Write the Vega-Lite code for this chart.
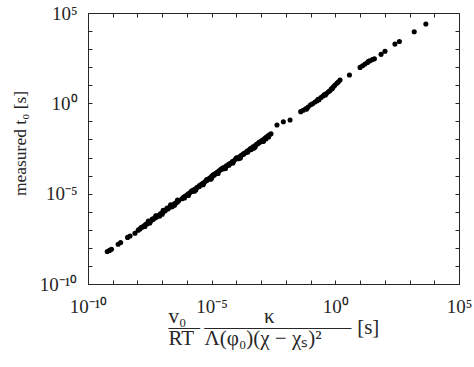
{
  "$schema": "https://vega.github.io/schema/vega-lite/v6.json",
  "autosize": "none",
  "width": 371,
  "height": 271,
  "padding": {"left": 88, "top": 13, "right": 15, "bottom": 83},
  "background": "white",
  "config": {
    "view": {"stroke": "#262626", "strokeWidth": 1},
    "axis": {
      "labelFont": "Liberation Serif",
      "titleFont": "Liberation Serif",
      "labelColor": "#262626",
      "titleColor": "#262626",
      "titleFontWeight": "normal",
      "domain": false,
      "grid": false,
      "tickColor": "#262626",
      "tickSize": -4,
      "tickWidth": 1
    }
  },
  "data": {
    "values": [
      {"x": 6.03e-10, "y": 6.31e-9}, {"x": 7.41e-10, "y": 7.24e-9}, {"x": 8.91e-10, "y": 8.32e-9},
      {"x": 1.66e-9, "y": 1.585e-8}, {"x": 2.09e-9, "y": 2.0e-8}, {"x": 3.98e-9, "y": 3.8e-8},
      {"x": 5.01e-9, "y": 4.57e-8}, {"x": 7.94e-9, "y": 6.46e-8}, {"x": 1.07e-8, "y": 9.55e-8},
      {"x": 1.26e-8, "y": 1.12e-7}, {"x": 1.45e-8, "y": 1.38e-7}, {"x": 1.66e-8, "y": 1.45e-7},
      {"x": 1.91e-8, "y": 1.74e-7}, {"x": 2.19e-8, "y": 2.0e-7}, {"x": 2.51e-8, "y": 2.19e-7},
      {"x": 2.88e-8, "y": 2.63e-7}, {"x": 3.31e-8, "y": 2.88e-7}, {"x": 3.8e-8, "y": 3.47e-7},
      {"x": 4.37e-8, "y": 3.8e-7}, {"x": 5.01e-8, "y": 4.57e-7}, {"x": 5.75e-8, "y": 5.01e-7},
      {"x": 6.61e-8, "y": 6.03e-7}, {"x": 7.59e-8, "y": 6.61e-7}, {"x": 8.71e-8, "y": 7.94e-7},
      {"x": 1.0e-7, "y": 8.71e-7}, {"x": 1.15e-7, "y": 1.05e-6}, {"x": 1.32e-7, "y": 1.12e-6},
      {"x": 1.51e-7, "y": 1.38e-6}, {"x": 1.74e-7, "y": 1.48e-6}, {"x": 2.0e-7, "y": 1.78e-6},
      {"x": 2.29e-7, "y": 2.0e-6}, {"x": 2.63e-7, "y": 2.29e-6}, {"x": 3.02e-7, "y": 2.63e-6},
      {"x": 3.47e-7, "y": 3.02e-6}, {"x": 3.98e-7, "y": 3.31e-6}, {"x": 4.57e-7, "y": 3.98e-6},
      {"x": 6.31e-7, "y": 5.25e-6}, {"x": 7.24e-7, "y": 6.31e-6}, {"x": 8.32e-7, "y": 7.24e-6},
      {"x": 9.55e-7, "y": 7.94e-6}, {"x": 1.1e-6, "y": 9.55e-6}, {"x": 1.26e-6, "y": 1.05e-5},
      {"x": 1.45e-6, "y": 1.26e-5}, {"x": 1.66e-6, "y": 1.38e-5}, {"x": 1.91e-6, "y": 1.66e-5},
      {"x": 2.19e-6, "y": 1.82e-5}, {"x": 2.51e-6, "y": 2.19e-5}, {"x": 2.88e-6, "y": 2.4e-5},
      {"x": 3.31e-6, "y": 2.88e-5}, {"x": 3.8e-6, "y": 3.16e-5}, {"x": 4.37e-6, "y": 3.8e-5},
      {"x": 5.01e-6, "y": 4.17e-5}, {"x": 5.75e-6, "y": 5.01e-5}, {"x": 6.61e-6, "y": 5.5e-5},
      {"x": 7.59e-6, "y": 6.61e-5}, {"x": 8.71e-6, "y": 7.59e-5}, {"x": 1.0e-5, "y": 9.12e-5},
      {"x": 1.15e-5, "y": 1.1e-4}, {"x": 1.32e-5, "y": 1.2e-4}, {"x": 1.51e-5, "y": 1.38e-4},
      {"x": 1.74e-5, "y": 1.585e-4}, {"x": 2.0e-5, "y": 1.82e-4}, {"x": 2.29e-5, "y": 2.09e-4},
      {"x": 2.63e-5, "y": 2.29e-4}, {"x": 3.02e-5, "y": 2.75e-4}, {"x": 3.47e-5, "y": 3.02e-4},
      {"x": 3.98e-5, "y": 3.47e-4}, {"x": 4.57e-5, "y": 3.98e-4}, {"x": 5.25e-5, "y": 4.57e-4},
      {"x": 6.03e-5, "y": 5.01e-4}, {"x": 6.92e-5, "y": 6.03e-4}, {"x": 7.94e-5, "y": 6.61e-4},
      {"x": 9.12e-5, "y": 7.94e-4}, {"x": 1.05e-4, "y": 8.71e-4}, {"x": 1.2e-4, "y": 1.0e-3},
      {"x": 1.38e-4, "y": 1.15e-3}, {"x": 1.585e-4, "y": 1.32e-3}, {"x": 1.82e-4, "y": 1.45e-3},
      {"x": 2.09e-4, "y": 1.74e-3}, {"x": 2.4e-4, "y": 1.91e-3}, {"x": 2.75e-4, "y": 2.29e-3},
      {"x": 3.16e-4, "y": 2.51e-3}, {"x": 3.63e-4, "y": 3.02e-3}, {"x": 4.17e-4, "y": 3.31e-3},
      {"x": 4.79e-4, "y": 3.98e-3}, {"x": 5.5e-4, "y": 4.37e-3}, {"x": 6.31e-4, "y": 5.25e-3},
      {"x": 7.24e-4, "y": 5.75e-3}, {"x": 8.32e-4, "y": 6.92e-3}, {"x": 9.55e-4, "y": 7.59e-3},
      {"x": 1.1e-3, "y": 9.12e-3}, {"x": 1.26e-3, "y": 1.0e-2}, {"x": 1.45e-3, "y": 1.2e-2},
      {"x": 1.66e-3, "y": 1.38e-2}, {"x": 1.91e-3, "y": 1.585e-2}, {"x": 2.19e-3, "y": 1.82e-2},
      {"x": 2.51e-3, "y": 2.09e-2},
      {"x": 2.0e-8, "y": 1.51e-7}, {"x": 3.98e-8, "y": 3.98e-7}, {"x": 7.94e-8, "y": 5.75e-7},
      {"x": 1.585e-7, "y": 1.585e-6}, {"x": 3.16e-7, "y": 2.29e-6}, {"x": 7.94e-7, "y": 5.75e-6},
      {"x": 1.585e-6, "y": 1.45e-5}, {"x": 3.16e-6, "y": 2.51e-5}, {"x": 6.31e-6, "y": 6.03e-5},
      {"x": 1.26e-5, "y": 1.05e-4}, {"x": 2.51e-5, "y": 2.4e-4}, {"x": 5.01e-5, "y": 3.8e-4},
      {"x": 1.0e-4, "y": 9.55e-4}, {"x": 2.0e-4, "y": 1.585e-3}, {"x": 3.98e-4, "y": 2.75e-3},
      {"x": 7.94e-4, "y": 6.31e-3}, {"x": 1.585e-3, "y": 1.1e-2},
      {"x": 2.75e-8, "y": 3.02e-7}, {"x": 5.5e-8, "y": 6.03e-7}, {"x": 1.1e-7, "y": 1.2e-6},
      {"x": 2.19e-7, "y": 2.4e-6}, {"x": 4.17e-7, "y": 4.37e-6}, {"x": 1.15e-6, "y": 7.94e-6},
      {"x": 2.29e-6, "y": 1.585e-5}, {"x": 4.57e-6, "y": 3.16e-5}, {"x": 9.12e-6, "y": 6.31e-5},
      {"x": 1.82e-5, "y": 1.32e-4}, {"x": 3.63e-5, "y": 2.51e-4}, {"x": 7.24e-5, "y": 5.01e-4},
      {"x": 1.45e-4, "y": 9.55e-4}, {"x": 2.88e-4, "y": 2.0e-3}, {"x": 5.75e-4, "y": 3.8e-3},
      {"x": 1.15e-3, "y": 7.94e-3}, {"x": 2.0e-3, "y": 1.38e-2},
      {"x": 3.16e-8, "y": 2.4e-7}, {"x": 1.0e-7, "y": 7.24e-7}, {"x": 2.51e-7, "y": 1.91e-6},
      {"x": 2.0e-6, "y": 1.38e-5}, {"x": 1.0e-5, "y": 7.24e-5}, {"x": 3.16e-5, "y": 2.4e-4},
      {"x": 1.26e-4, "y": 8.71e-4}, {"x": 5.01e-4, "y": 3.31e-3}, {"x": 1.26e-3, "y": 7.94e-3},
      {"x": 4.37e-3, "y": 6.31e-2}, {"x": 7.94e-3, "y": 9.55e-2}, {"x": 1.48e-2, "y": 1.2e-1},
      {"x": 3.98e-2, "y": 3.47e-1}, {"x": 5.01e-2, "y": 4.17e-1}, {"x": 6.31e-2, "y": 5.01e-1},
      {"x": 7.94e-2, "y": 6.31e-1}, {"x": 1.0e-1, "y": 8.32e-1}, {"x": 1.2e-1, "y": 9.55e-1},
      {"x": 1.51e-1, "y": 1.175}, {"x": 1.82e-1, "y": 1.38}, {"x": 2.19e-1, "y": 1.585},
      {"x": 2.63e-1, "y": 2.09}, {"x": 3.16e-1, "y": 2.51}, {"x": 3.63e-1, "y": 3.02},
      {"x": 4.37e-1, "y": 3.47}, {"x": 5.25e-1, "y": 4.37}, {"x": 6.03e-1, "y": 5.01},
      {"x": 6.92e-1, "y": 6.31}, {"x": 8.32e-1, "y": 8.32}, {"x": 9.55e-1, "y": 10.0},
      {"x": 1.148, "y": 12.9}, {"x": 1.318, "y": 15.1}, {"x": 1.549, "y": 19.5},
      {"x": 6.92e-2, "y": 4.79e-1}, {"x": 2.0e-1, "y": 1.66}, {"x": 3.98e-1, "y": 2.88},
      {"x": 7.59e-1, "y": 6.61},
      {"x": 3.715, "y": 37.2}, {"x": 10.0, "y": 97.7}, {"x": 12.6, "y": 120},
      {"x": 15.85, "y": 148}, {"x": 19.95, "y": 182}, {"x": 21.9, "y": 214}, {"x": 25.1, "y": 229},
      {"x": 31.6, "y": 263}, {"x": 38.0, "y": 295}, {"x": 70.8, "y": 513},
      {"x": 102, "y": 759}, {"x": 257, "y": 1905}, {"x": 389, "y": 2630},
      {"x": 1549, "y": 9120}, {"x": 4571, "y": 24550}
    ]
  },
  "layer": [
    {
      "mark": {"type": "circle", "size": 26, "color": "#000000", "opacity": 1},
      "encoding": {
        "x": {
          "field": "x", "type": "quantitative",
          "scale": {"type": "log", "domain": [1e-10, 1e5], "nice": false},
          "axis": {
            "orient": "bottom",
            "values": [1e-10, 1e-9, 1e-8, 1e-7, 1e-6, 1e-5, 1e-4, 1e-3, 1e-2, 1e-1, 1, 10, 100, 1000, 10000, 100000],
            "labelExpr": "round(log(datum.value)/LN10) == -10 ? '10⁻¹⁰' : round(log(datum.value)/LN10) == -5 ? '10⁻⁵' : round(log(datum.value)/LN10) == 0 ? '10⁰' : round(log(datum.value)/LN10) == 5 ? '10⁵' : ''",
            "labelFontSize": 19,
            "labelPadding": 17,
            "labelFlush": false,
            "labelOverlap": false,
            "title": ["\u2009v₀\u2003\u2003\u2003\u2002\u2009κ", "—–\u2009——————––\u2009\u200a[s]", "RT\u2002Λ(φ₀)(χ − χₛ)²"],
            "titleFontSize": 21,
            "titleAlign": "left",
            "titleBaseline": "alphabetic",
            "titleX": 80,
            "titleY": 38,
            "titleLineHeight": 11
          }
        },
        "y": {
          "field": "y", "type": "quantitative",
          "scale": {"type": "log", "domain": [1e-10, 1e5], "nice": false},
          "axis": {
            "orient": "left",
            "values": [1e-10, 1e-9, 1e-8, 1e-7, 1e-6, 1e-5, 1e-4, 1e-3, 1e-2, 1e-1, 1, 10, 100, 1000, 10000, 100000],
            "labelExpr": "round(log(datum.value)/LN10) == -10 ? '10⁻¹⁰' : round(log(datum.value)/LN10) == -5 ? '10⁻⁵' : round(log(datum.value)/LN10) == 0 ? '10⁰' : round(log(datum.value)/LN10) == 5 ? '10⁵' : ''",
            "labelFontSize": 19,
            "labelPadding": 15,
            "labelFlush": false,
            "labelOverlap": false,
            "title": "measured t₀ [s]",
            "titleFontSize": 17.5,
            "titleAngle": -90,
            "titleAlign": "center",
            "titleBaseline": "alphabetic",
            "titleX": -63,
            "titleY": 130
          }
        }
      }
    },
    {
      "mark": {"type": "point", "opacity": 0},
      "encoding": {
        "x": {
          "field": "x", "type": "quantitative",
          "scale": {"type": "log", "domain": [1e-10, 1e5], "nice": false},
          "axis": {
            "orient": "top",
            "values": [1e-10, 1e-9, 1e-8, 1e-7, 1e-6, 1e-5, 1e-4, 1e-3, 1e-2, 1e-1, 1, 10, 100, 1000, 10000, 100000],
            "labels": false,
            "title": null
          }
        },
        "y": {
          "field": "y", "type": "quantitative",
          "scale": {"type": "log", "domain": [1e-10, 1e5], "nice": false},
          "axis": {
            "orient": "right",
            "values": [1e-10, 1e-9, 1e-8, 1e-7, 1e-6, 1e-5, 1e-4, 1e-3, 1e-2, 1e-1, 1, 10, 100, 1000, 10000, 100000],
            "labels": false,
            "title": null
          }
        }
      }
    }
  ],
  "resolve": {"axis": {"x": "independent", "y": "independent"}}
}
